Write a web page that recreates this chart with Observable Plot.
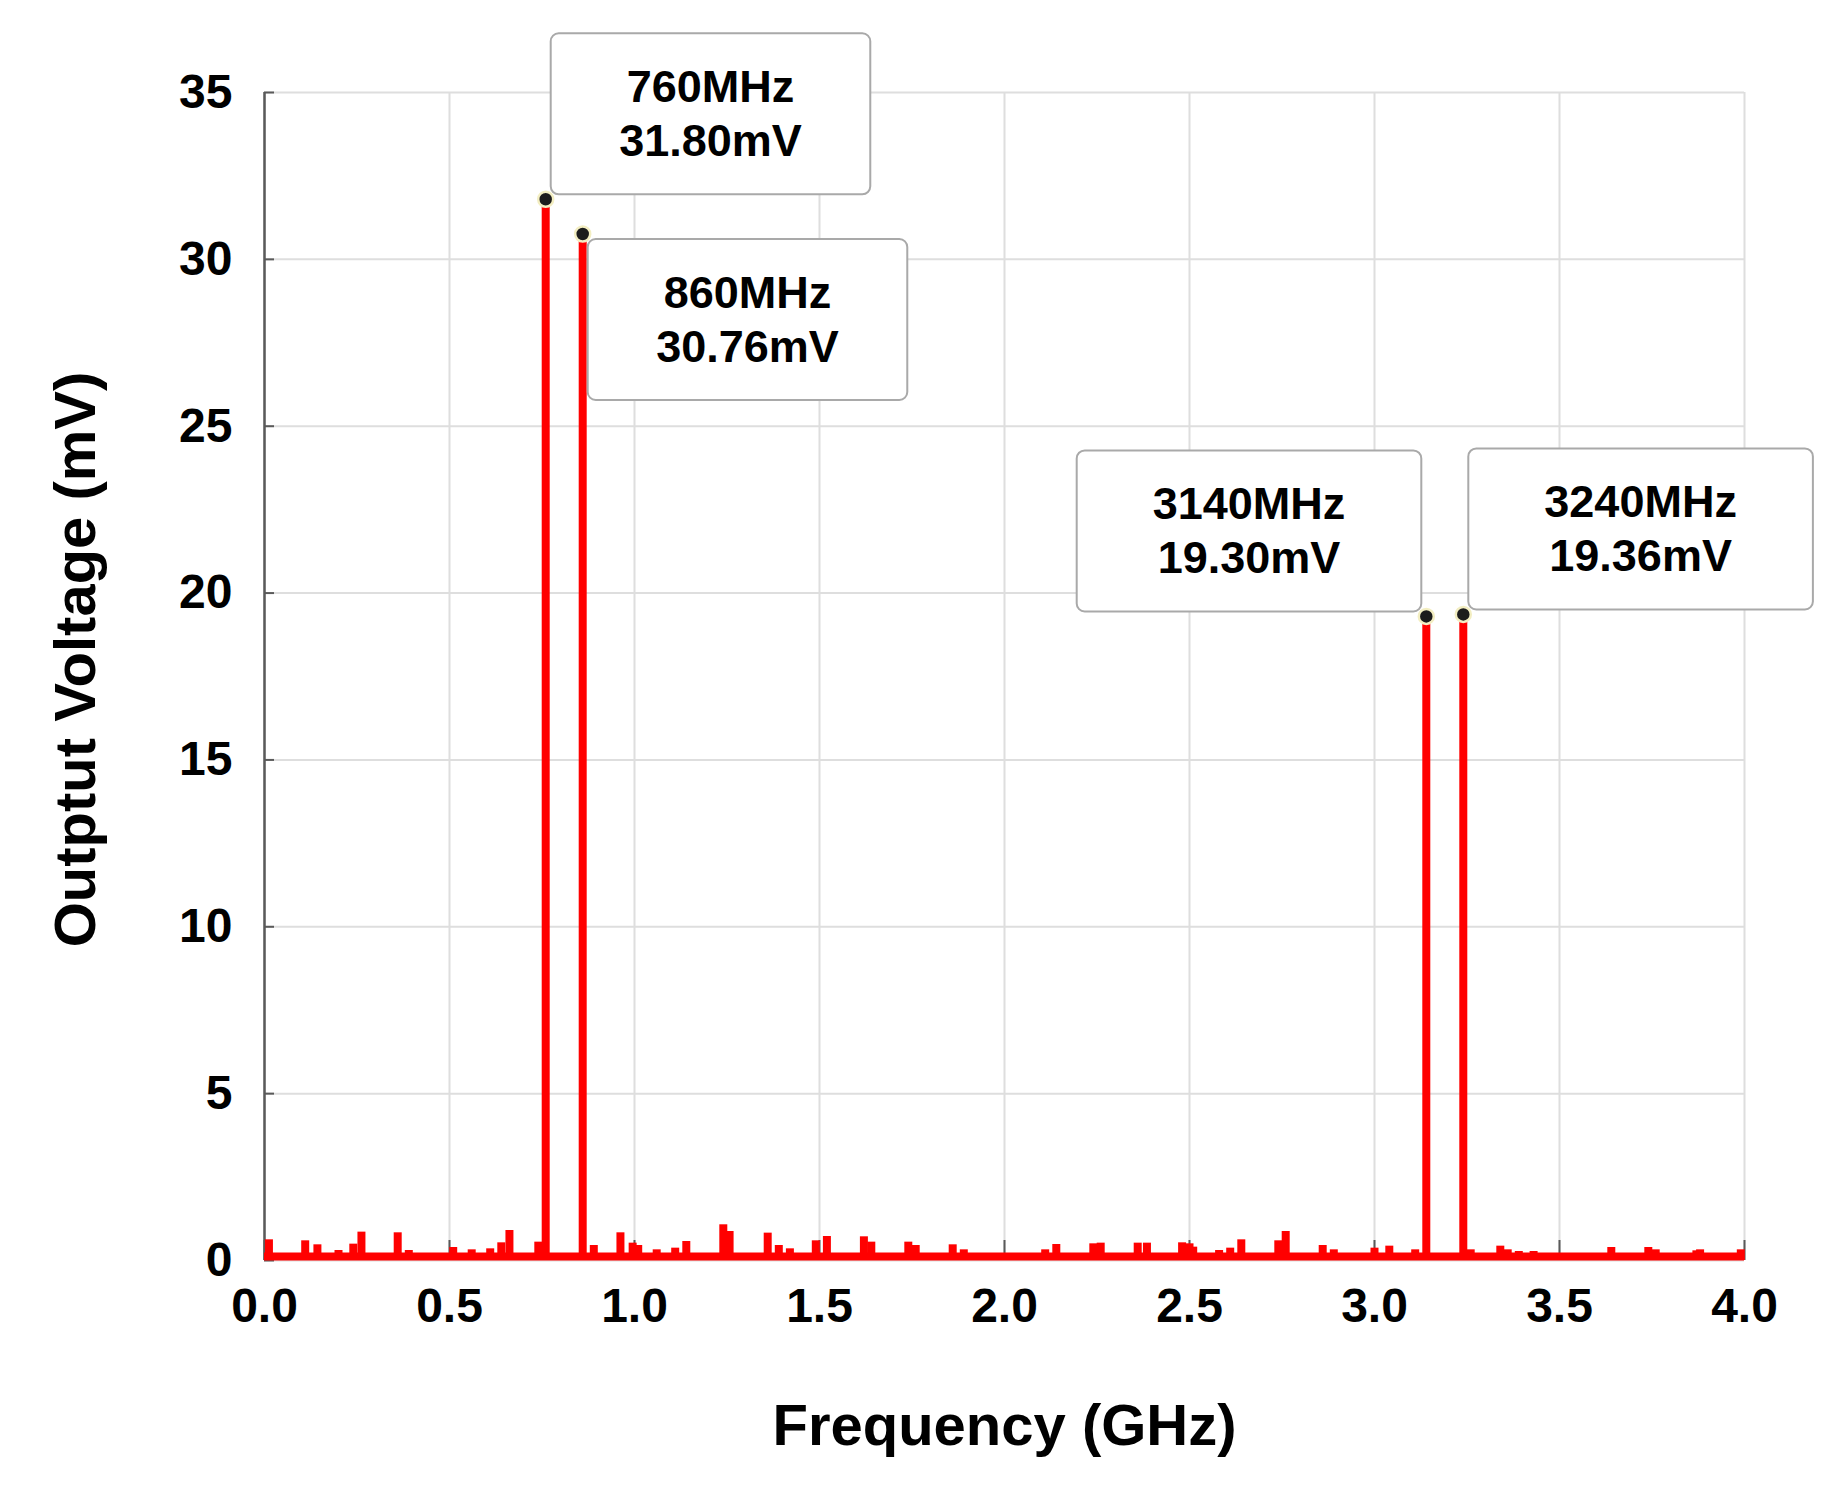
<!DOCTYPE html>
<html>
<head>
<meta charset="utf-8">
<script src="https://cdn.jsdelivr.net/npm/d3@7"></script>
<script src="https://cdn.jsdelivr.net/npm/@observablehq/plot@0.6"></script>
<style>
  html, body { margin: 0; padding: 0; background: #fff; }
</style>
</head>
<body>
<div id="chart"></div>
<script>
// ---- data ----
const xTicks = [0, 0.5, 1, 1.5, 2, 2.5, 3, 3.5, 4];
const yTicks = [0, 5, 10, 15, 20, 25, 30, 35];
const xTitle = "Frequency (GHz)";
const yTitle = "Outptut Voltage (mV)";

// noise floor of the measured spectrum (mV)
const noiseFloor = 0.12;

// small spurious spikes: frequency (GHz) and level (mV)
const spikeFreqs = [0.012, 0.11, 0.143, 0.20, 0.24, 0.262, 0.36, 0.39, 0.51, 0.56, 0.61, 0.64, 0.662, 0.74,
  0.89, 0.962, 0.995, 1.01, 1.06, 1.11, 1.14, 1.24, 1.257, 1.36, 1.39, 1.42, 1.49, 1.52, 1.62, 1.64,
  1.74, 1.76, 1.86, 1.89, 2.11, 2.14, 2.24, 2.26, 2.36, 2.385, 2.48, 2.50, 2.51, 2.58, 2.61, 2.64,
  2.74, 2.76, 2.86, 2.89, 3.00, 3.04, 3.11, 3.26, 3.34, 3.36, 3.39, 3.43, 3.64, 3.74, 3.76, 3.87, 3.88, 3.99];
const spikeVolts = [0.50, 0.47, 0.35, 0.18, 0.37, 0.73, 0.71, 0.18, 0.27, 0.20, 0.23, 0.41, 0.78, 0.43,
  0.33, 0.71, 0.40, 0.33, 0.20, 0.25, 0.45, 0.95, 0.75, 0.70, 0.33, 0.23, 0.47, 0.60, 0.59, 0.43,
  0.43, 0.33, 0.35, 0.20, 0.20, 0.36, 0.38, 0.40, 0.40, 0.40, 0.41, 0.38, 0.28, 0.18, 0.25, 0.50,
  0.47, 0.75, 0.33, 0.20, 0.25, 0.31, 0.20, 0.20, 0.31, 0.20, 0.15, 0.15, 0.27, 0.27, 0.20, 0.17, 0.20, 0.20];

// marked peaks
const peakFreqs = [0.76, 0.86, 3.14, 3.24];
const peakVolts = [31.80, 30.76, 19.30, 19.36];

// ---- build tables ----
const spikes = spikeFreqs.map((f, i) => ({f, v: spikeVolts[i]}))
  .concat(peakFreqs.map((f, i) => ({f, v: peakVolts[i]})));
const peaks = peakFreqs.map((f, i) => ({
  f, v: peakVolts[i],
  label: `${Math.round(f * 1000)}MHz\n${peakVolts[i].toFixed(2)}mV`
}));

const font = "'Liberation Sans', Arial, Helvetica, sans-serif";
const red = "#ff0000";
const axisGray = "#5a5a5a";
const gridGray = "#dedede";

const chart = Plot.plot({
  width: 1840,
  height: 1492,
  marginTop: 92,
  marginRight: 96,
  marginBottom: 232,
  marginLeft: 264,
  style: {fontFamily: font, background: "#fff", overflow: "visible", color: "#000"},
  x: {domain: [0, 4]},
  y: {domain: [0, 35]},
  marks: [
    Plot.gridX(xTicks, {stroke: gridGray, strokeOpacity: 1, strokeWidth: 2}),
    Plot.gridY(yTicks, {stroke: gridGray, strokeOpacity: 1, strokeWidth: 2}),
    // inward tick marks
    Plot.axisY(yTicks, {color: axisGray, tickSize: -10, strokeWidth: 2, tickFormat: () => "", label: null}),
    Plot.axisX(xTicks, {color: axisGray, tickSize: -20, strokeWidth: 2, tickFormat: () => "", label: null}),
    // tick labels
    Plot.axisY(yTicks, {color: "#000", tickSize: 0, tickPadding: 32, fontSize: 48, fontWeight: "bold", label: null}),
    Plot.axisX(xTicks, {color: "#000", tickSize: 0, tickPadding: 27, fontSize: 48, fontWeight: "bold",
      tickFormat: d3.format(".1f"), label: null}),
    Plot.ruleX([0], {stroke: axisGray, strokeWidth: 2.5}),
    // spectrum
    Plot.ruleY([noiseFloor], {stroke: red, strokeWidth: 8}),
    Plot.ruleX(spikes, {x: "f", y1: noiseFloor, y2: "v", stroke: red, strokeWidth: 8, strokeLinecap: "square"}),
    Plot.dot(peaks, {x: "f", y: "v", r: 7.5, fill: "#1c1c1c", stroke: "#f3eec2", strokeWidth: 2.5}),
    Plot.text(peaks, {x: "f", y: "v", text: "label", fontSize: 45, fontWeight: "bold", lineHeight: 1.2,
      textAnchor: "middle", lineAnchor: "middle", fill: "#000"}),
    // axis titles
    Plot.text([xTitle], {text: d => d, frameAnchor: "bottom", textAnchor: "middle", lineAnchor: "middle",
      dy: 166, fontSize: 58, fontWeight: "bold", fill: "#000"}),
    Plot.text([yTitle], {text: d => d, frameAnchor: "left", textAnchor: "middle", lineAnchor: "middle",
      rotate: -90, dx: -188, dy: -17, fontSize: 58, fontWeight: "bold", fill: "#000"})
  ]
});

document.getElementById("chart").append(chart);

// ---- callout boxes around the peak labels ----
(function boxes() {
  const svg = chart.tagName.toLowerCase() === "svg" ? chart : chart.querySelector("svg");
  const xs = chart.scale("x"), ys = chart.scale("y");
  const labels = Array.from(svg.querySelectorAll("text")).filter(t => /MHz/.test(t.textContent));
  const sides = [[1, -1], [1, 1], [-1, -1], [1, -1]];
  const padX = 76, padY = 28, gap = 5;
  const NS = "http://www.w3.org/2000/svg";
  labels.forEach((t, i) => {
    const bb = t.getBBox();
    const first = t.querySelector("tspan");
    const lineW = first && first.getComputedTextLength ? first.getComputedTextLength() : bb.width;
    let tx = 0, ty = 0;
    const c = t.transform && t.transform.baseVal.consolidate();
    if (c) { tx = c.matrix.e; ty = c.matrix.f; }
    const cx0 = tx + bb.x + bb.width / 2, cy0 = ty + bb.y + bb.height / 2;
    const w = lineW + 2 * padX, h = bb.height + 2 * padY;
    const px = xs.apply(peakFreqs[i]), py = ys.apply(peakVolts[i]);
    const [sx, sy] = sides[i] || [1, -1];
    const cx = px + sx * (w / 2 + gap), cy = py + sy * (h / 2 + gap);
    const parent = t.parentNode;
    const wrap = document.createElementNS(NS, "g");
    wrap.setAttribute("transform", `translate(${cx - cx0},${cy - cy0})`);
    const rect = document.createElementNS(NS, "rect");
    rect.setAttribute("x", cx0 - w / 2);
    rect.setAttribute("y", cy0 - h / 2);
    rect.setAttribute("width", w);
    rect.setAttribute("height", h);
    rect.setAttribute("rx", 8);
    rect.setAttribute("fill", "#fff");
    rect.setAttribute("stroke", "#a9a9a9");
    rect.setAttribute("stroke-width", 2);
    parent.insertBefore(wrap, t);
    wrap.appendChild(rect);
    wrap.appendChild(t);
  });
})();
</script>
</body>
</html>
